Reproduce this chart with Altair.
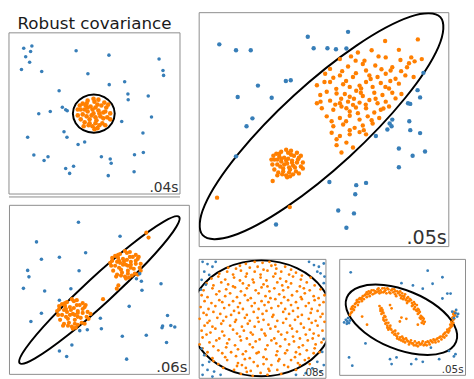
import altair as alt
import pandas as pd

BLUE = "#377eb8"
ORANGE = "#ff7f00"
FRAME = "#8c8c8c"

# ---------------- Panel 1 (single blob) ----------------
P1_W, P1_H = 174, 164
P1_TITLE = "Robust covariance"
P1_BLUE = [(15,148.3),(23.3,150.7),(22,145),(17,139.7),(21,134),(12.7,126.7),(33.3,124.7),(68.3,145.7),
           (101.7,141.3),(80.3,122.3),(152.7,137.3),(156.7,125.7),(157.3,120.7),(102,111.3),(117.7,114.3),
           (51,105),(121,101.7),(121.3,96),(141.7,99.7),(54.3,88.3),(57.7,85.7),(59.3,84.7),(42,84),
           (30.3,81.7),(145,78.3),(114.7,73.7),(56,63.3),(59,57.7),(19,57.7),(136.3,62),(70.3,50.3),
           (77,53),(25.3,39.7),(39.7,38),(35.7,34),(94,38),(103,35.7),(104,31.3),(127.7,40),(136.7,42.3),
           (57.7,26),(65.7,28.3),(61.7,21),(101,18.7),(127.3,22.7)]
P1_ORANGE = [(86,82),(91,85),(80,84),(89,75),(82,76),(96,83),(75,81),(94,90),(78,90),(87,94),(85,69),
             (95,72),(77,73),(100,78),(73,86),(99,88),(73,76),(91,96),(80,95),(90,67),(81,70),(103,82),
             (70,80),(97,93),(75,92),(98,70),(76,69),(88,88),(83,89),(93,79),(79,79),(88,78),(85,86),
             (101,91),(72,90),(86,97),(87,66),(92,70),(79,92),(103,76),(70,86),(96,77),(77,86),(90,91),
             (82,72),(98,84),(84,80),(92,82),(80,88),(88,72)]
P1_ELLIPSE = [(107.6,81.8),(104.7,91.6),(96.95,98.7),(86.3,101.3),(75.65,98.7),(67.9,91.6),(65,81.8),
              (67.9,72.1),(75.65,64.9),(86.3,62.3),(96.95,64.9),(104.7,72.1)]

# ---------------- Panel 2 (two clusters) ----------------
P2_W, P2_H = 254, 238
P2_BLUE = [(21,205.3),(38,199.3),(53,199.3),(111,213),(152,218),(117,201.3),(131,201.3),(139.7,200.3),
           (150.3,201),(60.3,163.3),(88.7,168),(93.7,168.7),(39.7,151.7),(74.3,151),(54.7,130),(48.7,122),
           (38,91.3),(228.7,176.3),(222.7,158.7),(225.3,151.3),(213,145.3),(215.3,144.7),(197,128.7),
           (194.3,124.7),(192,118.7),(196.3,122),(214.3,127),(215.3,118),(225.3,115),(180.3,112),
           (203.7,99.3),(217.7,92),(230.3,96.3),(203.7,80.3),(170.3,64.3),(160.3,62),(159.3,52.7),
           (133,65.3),(142,36.3),(158,33.3),(150.3,18.7),(78.7,22)]
P2_ORANGE = [(189.7,208.7),(223,210.3),(162,197),(176,199.3),(203.7,199.7),(143.7,190.3),(159.7,188.7),
             (168.7,188.7),(190.3,192),(205.3,189.3),(216.3,192),(227,190.3),(219.7,188),(133.7,180.3),
             (152,182.7),(170.3,178.7),(179.7,183.7),(197,182),(212,182),(195.3,178.7),(167,185.3),
             (128.7,175.3),(137,171.3),(143.7,173.7),(157,172),(173.7,173.7),(182,172),(190.3,175.3),
             (210.3,173.7),(200.3,170.3),(218.7,172),(120.3,163.7),(133.7,167),(147,164.7),(153.7,162),
             (163.7,163.3),(170.3,167),(177,162),(185.3,166),(193.7,160.3),(203.7,165.3),(165.3,160.3),
             (123.7,153.7),(130.3,157),(140.3,155.3),(148.7,154.7),(160.3,158),(167,152.7),(178.7,156),
             (187,153.7),(197,156),(206.3,154.7),(153.7,152),(120.3,145.3),(133.7,148),(143.7,145.3),
             (152,147),(157,143.7),(173.7,148.7),(182,145.3),(190.3,147),(200.3,150.3),(163.7,146),
             (125.3,140.3),(137,138.7),(145.3,142),(153.7,137),(162,135.3),(170.3,140.3),(178.7,136),
             (185.3,138.7),(193.7,142),(150.3,140.3),(130.3,132),(143.7,130.3),(153.7,132.7),(163.7,128.7),
             (172,132),(183.7,130.3),(135.3,127),(137,122),(147,123.7),(158.7,120.3),(167,122.7),
             (177,124.7),(153.7,118),(135.3,115.3),(143.7,112),(153.7,113.7),(163.7,116),(140.3,108.7),
             (170.3,113.7),(140.3,102.7),(145.3,95.3),(150.3,105.3),(157,100.3),
             (146,178),(160,176),(186,180),(175,170),(150,168),(165,156),(190,162),(140,160),(180,150),
             (158,150),(145,150),(170,144),(188,140),(160,141),(139,144),(176,128),(150,127),(168,118),
             (195,168),(206,178),(214,186),(183,193),(155,193),(128,167),(124,147),
             (90,84),(95,87),(84,86),(93,78),(86,79),(100,85),(80,83),(97,92),(82,91),(91,95),(89,72),
             (99,76),(81,75),(104,81),(77,88),(102,90),(77,78),(94,97),(84,96),(93,71),(85,73),(106,85),
             (75,83),(100,95),(79,94),(102,74),(80,72),(91,89),(87,90),(96,82),(83,81),(92,80),(89,87),
             (104,92),(76,92),(89,98),(90,70),(96,73),(82,94),(106,79),(74,88),(98,80),(80,88),(94,93),
             (86,76),(101,88),(87,83),(95,85),(84,89),(92,75),
             (75.3,66.3),(92.7,39.7),(18.7,49.3)]
P2_ELLIPSE = [(245.9,232.9),(215.5,233.5),(160.9,204.3),(96.6,153),(39.9,93.3),(6.1,41.5),(4.1,11.1),
              (34.5,10.5),(89.1,39.7),(153.4,91),(210.1,150.7),(243.9,202.5)]

# ---------------- Panel 3 (two blobs) ----------------
P3_W, P3_H = 183, 172
P3_BLUE = [(70.7,154.3),(28,134.3),(33,116.7),(51.3,118.7),(78,123.3),(113,140),(19,105.3),(20.3,98.7),
           (14.7,87),(36.3,84.3),(63,86.7),(71.3,105),(133,102),(134.7,94.3),(135.3,85),(154.7,91.7),
           (51.3,75),(33,61.7),(22.3,53.3),(93,56.7),(94,46),(79.7,45),(72,44),(122.3,68.7),(161.3,59.3),
           (156.3,48.7),(155.7,47),(164.7,49.3),(168.7,47.7),(139.7,39.3),(115.3,38.3),(160.3,32),
           (51.3,23.3),(58.7,17.7),(64,29.3),(119.7,15),(129.7,96.7)]
P3_ORANGE = [(65,61),(70,64),(59,63),(67,55),(60,56),(75,62),(54,60),(72,70),(57,69),(66,74),(64,48),
             (74,52),(56,51),(79,58),(51,66),(77,68),(52,55),(69,75),(59,73),(68,47),(60,49),(80,63),
             (50,60),(75,72),(54,71),(77,51),(55,49),(66,67),(62,68),(70,58),(58,58),(67,60),(63,65),
             (78,70),(51,69),(64,76),(65,46),(70,50),(57,72),(81,56),(49,64),(73,57),(56,65),(69,70),
             (61,52),(75,66),(62,60),(70,62),(58,66),(67,51),
             (119,111),(124,114),(113,113),(121,105),(114,106),(129,112),(108,110),(126,119),(111,118),
             (120,123),(118,99),(128,102),(110,101),(133,108),(105,115),(131,117),(106,105),(123,124),
             (113,122),(122,98),(114,100),(134,112),(104,110),(129,121),(108,120),(131,101),(109,99),
             (120,116),(116,117),(124,108),(112,108),(121,110),(117,114),(132,119),(105,118),(118,125),
             (119,97),(125,100),(111,121),(134,105),(103,113),(127,107),(110,114),(123,119),(115,103),
             (129,115),(116,111),(124,111),(112,115),(121,102),
             (139.7,143.7),(142,138.7),(109.7,86.7),(111.3,90),(95.7,76),(83,61)]
P3_ELLIPSE = [(173.1,159.7),(157.5,154.9),(124.3,131.4),(82.5,95.6),(43.3,57),(17.1,26.1),(10.9,10.9),
              (26.5,15.7),(59.7,39.2),(101.5,75),(140.7,113.6),(166.9,144.5)]

# ---------------- Panel 4 (uniform) ----------------
P4_W, P4_H = 129, 121
P4_BLUE = [(4,118),(9,115.7),(14,113),(5.7,108),(10.7,104.7),(3,99.7),(7.3,94.7),(17.3,118),(2.3,89.7),
           (112.3,118),(117.3,114.7),(122.3,113),(127.3,116.3),(124,106.3),(128,103),(120.7,108),(127.3,96.3),
           (3,29.7),(5.7,23),(10.7,16.3),(4,13),(9,8),(15.7,6.3),(22.3,3),(4,3),(14,1.3),
           (127.3,39.7),(125.7,26.3),(120.7,16.3),(115.7,9.7),(109,4.7),(99,3),(127.3,13),(124,6.3)]
P4_ORANGE = [(43,4),(49,6),(55,2),(63,5),(70,3),(72,7),(84,4),
             (25,10),(36,8),(39,12),(48,10),(53,7),(60,12),(71,9),(74,13),(80,8),(91,11),(99,8),(103,13),
             (15,17),(20,14),(29,18),(40,15),(44,13),(47,19),(56,16),(66,14),(69,19),(81,17),(87,13),(94,18),
             (101,15),(108,18),(113,14),
             (7,23),(14,20),(24,25),(27,21),(38,22),(45,24),(52,20),(59,25),(66,21),(79,23),(82,19),(88,25),
             (98,21),(103,24),(112,20),(117,25),
             (4,30),(9,26),(20,28),(28,31),(33,26),(40,29),(48,27),(55,31),(61,26),(68,29),(80,27),(83,32),
             (90,28),(99,26),(102,31),(110,28),(118,30),(123,26),
             (1,34),(11,36),(15,32),(18,38),(29,35),(37,33),(43,38),(52,34),(58,37),(70,33),(74,38),(79,35),
             (92,34),(97,37),(106,33),(111,38),(119,34),(125,36),
             (4,41),(8,44),(21,40),(26,43),(31,39),(42,42),(49,40),(55,44),(62,39),(68,43),(77,40),(84,44),
             (88,39),(96,42),(103,40),(109,44),(116,40),(122,43),(127,39),
             (3,48),(12,46),(17,50),(24,47),(35,49),(39,45),(46,48),(53,46),(64,49),(67,45),(73,50),(81,47),
             (90,46),(95,50),(100,47),(113,49),(117,45),(126,48),
             (6,53),(9,56),(14,52),(23,55),(32,53),(37,57),(44,52),(50,55),(57,52),(61,57),(71,54),(78,52),
             (86,56),(93,53),(104,55),(107,51),(115,56),(121,53),
             (1,60),(11,58),(19,61),(25,58),(28,62),(38,59),(47,61),(52,58),(60,61),(66,59),(75,62),(80,58),
             (89,60),(98,59),(101,62),(112,60),(119,58),(124,62),(128,57),
             (5,66),(8,64),(15,67),(22,65),(33,64),(36,68),(41,66),(49,64),(56,67),(65,65),(69,68),(76,64),
             (86,67),(92,65),(96,68),(105,64),(114,66),(121,68),(126,65),
             (2,72),(10,70),(17,73),(26,71),(31,74),(40,72),(45,70),(54,73),(61,70),(67,74),(74,71),(81,73),
             (88,70),(94,74),(101,71),(109,73),(115,70),(123,74),
             (6,78),(13,76),(21,79),(24,77),(35,78),(42,76),(50,79),(57,76),(64,78),(71,77),(78,80),(84,76),
             (91,79),(99,77),(105,80),(112,76),(118,79),(127,77),
             (3,84),(9,82),(18,85),(27,83),(32,86),(39,82),(47,84),(53,81),(61,86),(68,83),(73,81),(82,85),
             (87,82),(95,84),(104,82),(108,86),(117,83),(122,81),(128,84),
             (5,89),(14,91),(21,88),(28,90),(37,92),(43,88),(49,91),(58,89),(64,92),(72,88),(77,91),(86,89),
             (91,92),(100,88),(107,91),(113,89),(124,90),
             (8,96),(15,94),(23,97),(30,95),(35,93),(45,96),(51,94),(56,97),(66,95),(70,93),(80,97),(85,94),
             (94,96),(103,93),(110,97),(118,94),
             (13,101),(20,103),(27,100),(36,102),(42,99),(48,103),(55,100),(63,102),(69,99),(76,103),(83,101),
             (89,98),(96,103),(104,100),(114,102),
             (21,106),(29,108),(35,105),(43,109),(49,106),(57,108),(63,105),(70,109),(78,106),(84,108),
             (92,105),(99,107),(105,104),
             (30,112),(38,111),(42,114),(52,112),(60,113),(66,110),(74,114),(79,111),(88,113),(94,110),
             (48,116),(57,118),(65,117),(72,118),(78,115)]
P4_ELLIPSE = [(136.2,60.5),(126.5,90),(99.95,111.6),(63.7,119.5),(27.45,111.6),(0.9,90),(-8.8,60.5),
              (0.9,31),(27.45,9.4),(63.7,1.5),(99.95,9.4),(126.5,31)]

# ---------------- Panel 5 (moons) ----------------
P5_W, P5_H = 128, 118
P5_BLUE = [(11.7,104.3),(90,106),(105,99.3),(63.3,93.3),(75,91),(95,92.7),(113.3,82.7),(105,77.7),
           (85,87.7),(110,82.7),
           (6.7,56),(8.3,54.3),(10,52.7),(7.7,52),(11,55.3),(5,53.3),(9,57.7),
           (115,64.3),(118.3,62.7),(120,59.3),(116.7,57.7),(119,66),(121,62),
           (10,17.7),(13.3,9.3),(26.7,32),(51.7,16),(58.3,17.7),(53.3,11),(73.3,11),(78.3,16),(85,13.3),
           (101.7,16),(111.7,24.3),(118.3,21),(116.7,18.7),(93.3,27.7)]
P5_ORANGE = [(11,61),(13,64),(12,67),(15,66),(14,70),(16,72),(13,69),(17,73),(18,76),(20,74),(21,78),(19,71),
             (22,77),(24,80),(25,77),(27,82),(28,79),(23,75),(29,82),(31,80),(32,84),(34,82),(35,86),(36,83),
             (30,85),(38,84),(39,87),(41,83),(42,86),(44,88),(45,84),(40,85),(47,86),(48,83),(50,87),(51,84),
             (53,86),(46,88),(55,84),(56,87),(57,82),(59,85),(61,84),(58,80),(62,81),(63,78),(64,83),(66,80),
             (67,82),(65,77),(68,76),(70,79),(71,75),(72,77),(74,73),(69,73),(75,71),(76,74),(77,69),(79,71),
             (76,67),(79,65),(81,66),(80,62),(82,64),(83,60),(83,57),(84,59),(85,55),(86,57),(84,53),(87,54),
             (12,63),(14,67),(16,69),(18,74),(20,77),(23,78),(26,81),(28,84),(31,83),(33,86),(37,85),(40,88),
             (43,84),(46,85),(49,88),(52,83),(54,87),(57,85),(60,83),(62,85),(64,80),(66,78),(69,78),(70,75),
             (73,76),(74,70),(77,72),(78,66),(80,67),(81,63),(82,58),(85,58),(86,52),
             (41,70),(43,68),(42,65),(44,66),(43,62),(45,63),(45,58),(47,59),(46,55),(48,56),(47,52),
             (49,50),(50,53),(51,48),(52,50),(53,46),(50,46),(55,44),(56,41),(57,45),(58,40),(60,42),(59,37),
             (62,38),(63,35),(64,39),(66,36),(67,33),(68,37),(70,34),(71,31),(73,35),(74,32),(76,30),(77,34),
             (79,32),(80,29),(81,33),(83,31),(85,34),(86,30),(88,33),(89,30),(90,34),(92,31),(93,35),(95,33),
             (96,36),(98,33),(100,37),(101,34),(103,39),(104,36),(106,41),(107,38),(108,43),(109,40),(110,46),
             (111,43),(113,48),(112,45),(113,51),(115,50),(114,54),(116,53),(117,57),(115,58),(117,60),
             (116,62),(118,61),(117,64),
             (42,67),(44,64),(46,60),(45,56),(48,53),(49,48),(52,47),(54,43),(57,42),(59,39),(61,36),(65,37),
             (65,34),(69,35),(72,33),(75,32),(78,30),(82,31),(84,32),(87,31),(91,33),(94,34),(97,35),(99,36),
             (102,38),(105,39),(107,42),(110,44),(112,47),(114,49),(115,52),(116,56),(116,59),(118,63),
             (23.3,59.3),(28.3,51),(63.3,58.3),(61.7,54.3),(68.3,57),(80,51),(53.3,67.7),(51.7,71)]
P5_ELLIPSE = [(118.9,33.5),(117.1,50.4),(100.8,68.9),(74.6,83.8),(45.2,91.4),(20.7,89.4),(7.7,78.5),
              (9.5,61.6),(25.8,43.2),(52,28.2),(81.4,20.7),(105.9,22.6)]

LABELS = [".04s", ".05s", ".06s", ".08s", ".05s"]
LABEL_SIZES = [14, 19.5, 15, 10.5, 10.5]


def pts(lst):
    return pd.DataFrame(lst, columns=["x", "y"])


def one():
    return pd.DataFrame({"a": [0]})


def panel(w, h, blue, orange, ell, label, fs, bsize, osize, title=None, top=0):
    H = h + top
    X = alt.X("x:Q", scale=alt.Scale(domain=[0, w], nice=False, zero=False), axis=None)
    Y = alt.Y("y:Q", scale=alt.Scale(domain=[0, H], nice=False, zero=False), axis=None)
    layers = []
    if top:
        layers.append(
            alt.Chart(one()).mark_rect(fillOpacity=0, stroke=FRAME, strokeWidth=1).encode(
                x=alt.value(0), x2=alt.value(w), y=alt.value(top), y2=alt.value(H)
            )
        )
    edf = pts(ell)
    edf["i"] = range(len(edf))
    layers.append(
        alt.Chart(edf).mark_line(
            interpolate="cardinal-closed", color="black", strokeWidth=2, clip=True
        ).encode(x=X, y=Y, order="i:Q")
    )
    layers.append(alt.Chart(pts(orange)).mark_circle(size=osize, color=ORANGE, opacity=1).encode(x=X, y=Y))
    layers.append(alt.Chart(pts(blue)).mark_circle(size=bsize, color=BLUE, opacity=1).encode(x=X, y=Y))
    layers.append(
        alt.Chart(pd.DataFrame({"t": [label]})).mark_text(
            align="right", baseline="alphabetic", fontSize=fs, font="DejaVu Sans", color="#333"
        ).encode(text="t:N", x=alt.value(w - 1.5), y=alt.value(H - 2))
    )
    if title:
        layers.append(
            alt.Chart(pd.DataFrame({"t": [title]})).mark_text(
                align="center", baseline="alphabetic", fontSize=17, font="DejaVu Sans", color="#1a1a1a"
            ).encode(text="t:N", x=alt.value(w / 2), y=alt.value(top - 4))
        )
        layers.append(
            alt.Chart(one()).mark_rule(color=FRAME, strokeWidth=1).encode(
                x=alt.value(0), x2=alt.value(w), y=alt.value(H + 3)
            )
        )
    ch = alt.layer(*layers).properties(width=w, height=H)
    if top:
        ch = ch.properties(view=alt.ViewBackground(stroke="transparent"))
    return ch


p1 = panel(P1_W, P1_H, P1_BLUE, P1_ORANGE, P1_ELLIPSE, LABELS[0], LABEL_SIZES[0], 13, 22,
           title=P1_TITLE, top=21)
p2 = panel(P2_W, P2_H, P2_BLUE, P2_ORANGE, P2_ELLIPSE, LABELS[1], LABEL_SIZES[1], 20, 20)
p3 = panel(P3_W, P3_H, P3_BLUE, P3_ORANGE, P3_ELLIPSE, LABELS[2], LABEL_SIZES[2], 13, 18)
p4 = panel(P4_W, P4_H, P4_BLUE, P4_ORANGE, P4_ELLIPSE, LABELS[3], LABEL_SIZES[3], 8, 8)
p5 = panel(P5_W, P5_H, P5_BLUE, P5_ORANGE, P5_ELLIPSE, LABELS[4], LABEL_SIZES[4], 8, 8)

left = alt.vconcat(p1, p3, spacing=6)
right = alt.vconcat(p2, alt.hconcat(p4, p5, spacing=12), spacing=10)
chart = alt.hconcat(left, right, spacing=8, padding=0).configure_view(
    stroke=FRAME, strokeWidth=1
)

chart.save("out.html", embed_options={"renderer": "svg", "actions": False})
